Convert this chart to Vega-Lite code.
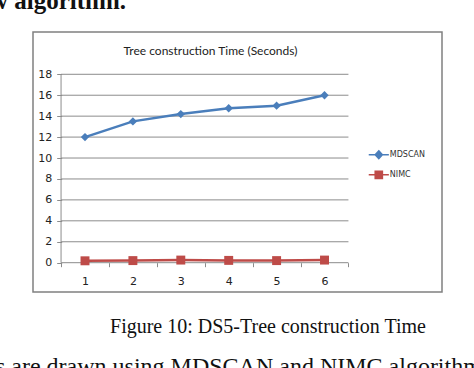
{
  "$schema": "https://vega.github.io/schema/vega-lite/v6.json",
  "width": 409,
  "height": 260,
  "autosize": {"type": "none"},
  "padding": {"left": 33, "top": 32, "right": 32, "bottom": 76},
  "background": "white",
  "config": {
    "view": {"stroke": "#808080", "strokeWidth": 1.5},
    "axis": {"grid": false, "domain": false, "labelFont": "DejaVu Sans", "labelFontSize": 11, "labelColor": "#222", "tickColor": "#8c8c8c", "tickWidth": 1, "labelOverlap": false, "labelFlush": false, "labelBound": false, "tickCount": 40}
  },
  "title": {
    "text": "Figure 10: DS5-Tree construction Time",
    "subtitle": "s are drawn using MDSCAN and NIMC algorithms. The",
    "orient": "bottom",
    "anchor": "middle",
    "frame": "group",
    "dx": 30.5,
    "offset": 24.5,
    "font": "Liberation Serif",
    "fontSize": 20,
    "fontWeight": "normal",
    "color": "#111",
    "subtitleFont": "Liberation Serif",
    "subtitleFontSize": 24,
    "subtitleColor": "#111",
    "subtitlePadding": 18.8
  },
  "datasets": {
    "series": [
      {"x": 1, "series": "MDSCAN", "value": 12},
      {"x": 2, "series": "MDSCAN", "value": 13.5},
      {"x": 3, "series": "MDSCAN", "value": 14.2},
      {"x": 4, "series": "MDSCAN", "value": 14.75},
      {"x": 5, "series": "MDSCAN", "value": 15},
      {"x": 6, "series": "MDSCAN", "value": 16},
      {"x": 1, "series": "NIMC", "value": 0.18},
      {"x": 2, "series": "NIMC", "value": 0.2},
      {"x": 3, "series": "NIMC", "value": 0.25},
      {"x": 4, "series": "NIMC", "value": 0.22},
      {"x": 5, "series": "NIMC", "value": 0.2},
      {"x": 6, "series": "NIMC", "value": 0.25}
    ],
    "grid": [
      {"g": 0}, {"g": 2}, {"g": 4}, {"g": 6}, {"g": 8},
      {"g": 10}, {"g": 12}, {"g": 14}, {"g": 16}, {"g": 18}
    ]
  },
  "layer": [
    {
      "data": {"name": "grid"},
      "mark": {"type": "rule", "color": "#8c8c8c", "strokeWidth": 1},
      "encoding": {
        "x": {"datum": 0.5, "type": "quantitative"},
        "x2": {"datum": 6.5},
        "y": {"field": "g", "type": "quantitative", "title": null}
      }
    },
    {
      "data": {"values": [{}]},
      "mark": {"type": "rule", "color": "#8c8c8c", "strokeWidth": 1},
      "encoding": {
        "x": {"datum": 0.5, "type": "quantitative"},
        "y": {"datum": 0, "type": "quantitative"},
        "y2": {"datum": 18}
      }
    },
    {
      "data": {"name": "series"},
      "mark": {"type": "line", "strokeWidth": 2.5},
      "encoding": {
        "x": {
          "field": "x", "type": "quantitative",
          "scale": {"domain": [-0.0856, 8.453], "nice": false, "zero": false},
          "axis": {
            "title": null,
            "values": [0.5, 1, 1.5, 2, 2.5, 3, 3.5, 4, 4.5, 5, 5.5, 6, 6.5],
            "tickCount": 40,
            "labelExpr": "datum.value % 1 === 0 ? '' + datum.value : ''",
            "offset": -29.3,
            "tickSize": 4,
            "tickOpacity": {"condition": {"test": "datum.value % 1 === 0", "value": 0}, "value": 1},
            "labelPadding": 9,
            "labelOverlap": false,
            "labelFlush": false,
            "labelBound": false
          }
        },
        "y": {
          "field": "value", "type": "quantitative",
          "scale": {"domain": [-2.8, 22.04], "nice": false, "zero": false},
          "axis": {
            "title": null,
            "values": [0, 2, 4, 6, 8, 10, 12, 14, 16, 18],
            "tickCount": 40,
            "format": "d",
            "offset": -28.7,
            "tickSize": 5,
            "labelPadding": 5,
            "labelOverlap": false,
            "labelFlush": false,
            "labelBound": false
          }
        },
        "color": {
          "field": "series", "type": "nominal",
          "scale": {"domain": ["MDSCAN", "NIMC"], "range": ["#4A7EBB", "#BE4B48"]},
          "legend": {
            "title": null,
            "orient": "none",
            "legendX": 337.8,
            "legendY": 114.8,
            "symbolSize": 207,
            "labelFont": "DejaVu Sans",
            "labelFontSize": 8,
            "labelColor": "#333",
            "rowPadding": 5,
            "labelOffset": 3,
            "encode": {
              "symbols": {
                "update": {
                  "shape": {"signal": "datum.value === 'MDSCAN' ? 'M-1.4,0H1.4M0,-0.55L0.5,0L0,0.55L-0.5,0Z' : 'M-1.4,0H1.4M-0.5,-0.5H0.5V0.5H-0.5Z'"},
                  "fill": {"signal": "datum.value === 'MDSCAN' ? '#4A7EBB' : '#BE4B48'"},
                  "stroke": {"signal": "datum.value === 'MDSCAN' ? '#4A7EBB' : '#BE4B48'"},
                  "strokeWidth": {"value": 1.5},
                  "fillOpacity": {"value": 1},
                  "opacity": {"value": 1}
                }
              }
            }
          }
        }
      }
    },
    {
      "data": {"name": "series"},
      "transform": [{"filter": "datum.series === 'MDSCAN'"}],
      "mark": {"type": "point", "filled": true, "opacity": 1, "size": 70, "shape": "diamond"},
      "encoding": {
        "x": {"field": "x", "type": "quantitative", "title": null},
        "y": {"field": "value", "type": "quantitative", "title": null},
        "color": {"field": "series", "type": "nominal", "legend": null}
      }
    },
    {
      "data": {"name": "series"},
      "transform": [{"filter": "datum.series === 'NIMC'"}],
      "mark": {"type": "point", "filled": true, "opacity": 1, "size": 80, "shape": "square"},
      "encoding": {
        "x": {"field": "x", "type": "quantitative", "title": null},
        "y": {"field": "value", "type": "quantitative", "title": null},
        "color": {"field": "series", "type": "nominal", "legend": null}
      }
    },
    {
      "data": {"values": [{}]},
      "mark": {"type": "text", "text": "Tree construction Time (Seconds)", "font": "Lato", "fontSize": 12, "color": "#222", "align": "center", "baseline": "middle"},
      "encoding": {
        "x": {"datum": 3.62, "type": "quantitative"},
        "y": {"datum": 20.22, "type": "quantitative"}
      }
    },
    {
      "data": {"values": [{}]},
      "mark": {"type": "text", "text": "new algorithm.", "font": "Liberation Serif", "fontSize": 25, "fontWeight": "bold", "color": "#111", "align": "right", "baseline": "alphabetic"},
      "encoding": {
        "x": {"datum": 1.856, "type": "quantitative"},
        "y": {"datum": 24.24, "type": "quantitative"}
      }
    }
  ]
}
